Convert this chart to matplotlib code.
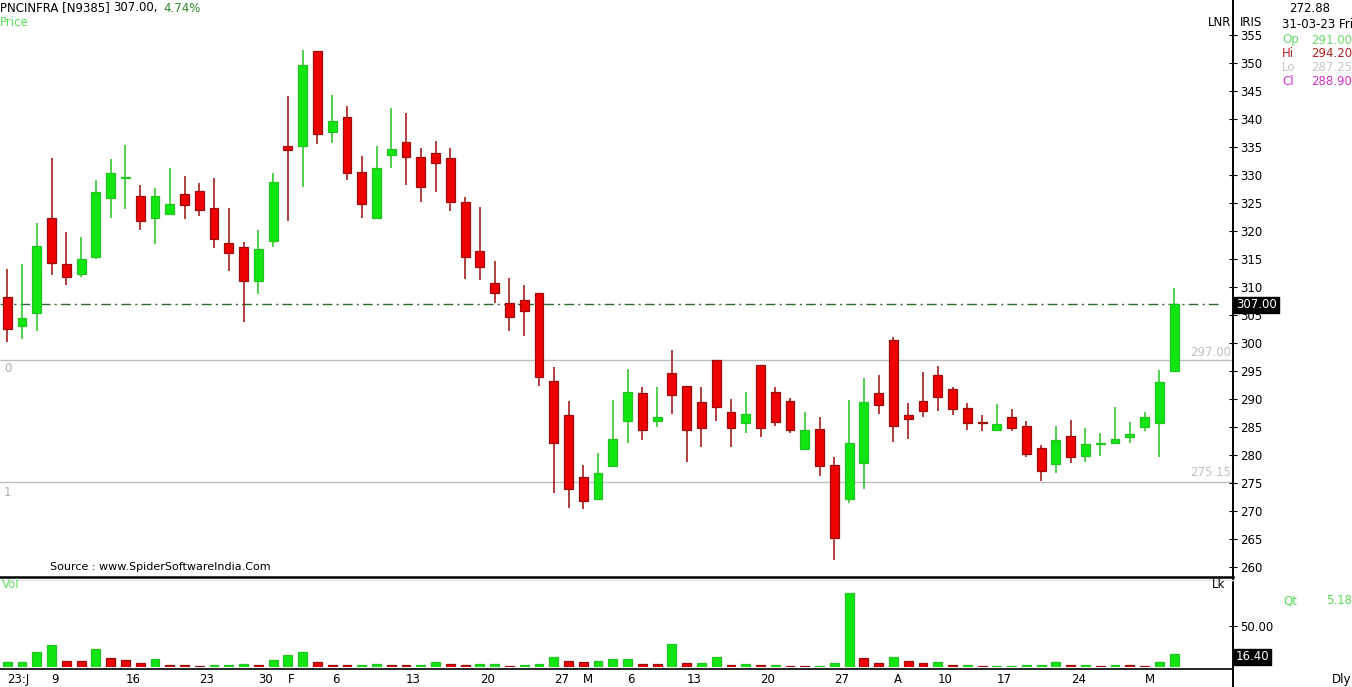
import numpy as np
import matplotlib
matplotlib.use('Agg')
import matplotlib.pyplot as plt
from matplotlib.lines import Line2D

# PNCINFRA daily candles, 04-Jan-2023 .. 04-May-2023
opens = [308.3, 303.1, 305.4, 322.4, 314.1, 312.3, 315.4, 325.9, 329.4, 326.2,
         322.4, 323.1, 326.6, 327.1, 324.1, 317.8, 317.1, 311.1, 318.3, 335.1,
         335.1, 352.1, 337.7, 340.3, 330.5, 322.4, 333.5, 335.9, 333.2, 334.0,
         333.0, 325.1, 316.5, 310.7, 307.1, 307.7, 309.0, 293.3, 287.1, 276.1,
         272.1, 278.1, 286.1, 291.0, 286.1, 294.6, 292.4, 289.4, 297.0, 287.6,
         285.8, 296.0, 291.2, 289.7, 281.1, 284.6, 278.2, 272.1, 278.5, 291.0,
         300.5, 287.1, 289.7, 294.3, 291.8, 288.45, 285.9, 284.5, 286.7, 285.2,
         281.3, 278.4, 283.45, 279.9, 281.9, 282.1, 283.3, 285.05, 285.8, 295.05]
highs = [313.2, 314.1, 321.4, 333.1, 319.8, 319.0, 329.1, 332.8, 335.4, 328.3,
         327.6, 331.2, 329.8, 328.6, 329.4, 324.1, 318.1, 320.2, 330.3, 344.1,
         352.3, 352.1, 344.3, 342.3, 333.4, 335.1, 341.9, 341.1, 334.9, 336.0,
         334.8, 326.1, 324.2, 314.6, 311.6, 310.4, 309.0, 295.7, 289.7, 278.3,
         280.3, 289.8, 295.4, 292.1, 292.2, 298.75, 292.4, 292.1, 297.0, 290.0,
         291.2, 296.0, 292.2, 290.1, 287.6, 286.7, 279.7, 289.8, 293.8, 294.2,
         301.1, 289.3, 294.9, 295.9, 292.2, 289.35, 287.15, 289.1, 288.3, 286.1,
         281.8, 285.2, 286.25, 284.9, 284.0, 288.6, 285.95, 287.6, 295.2, 309.9]
lows = [300.2, 300.7, 302.2, 312.1, 310.3, 311.7, 315.0, 322.4, 323.9, 320.2,
        317.7, 322.9, 322.1, 322.6, 316.9, 312.9, 303.7, 308.8, 317.2, 321.7,
        327.8, 335.5, 335.8, 329.1, 322.4, 322.3, 331.2, 328.2, 325.2, 326.9,
        323.5, 311.5, 311.25, 307.1, 302.2, 301.3, 292.3, 273.3, 270.6, 270.3,
        271.9, 277.9, 282.1, 282.7, 285.0, 287.4, 278.8, 281.4, 286.1, 281.4,
        284.0, 283.3, 285.2, 284.0, 280.9, 276.3, 261.25, 271.4, 273.9, 287.25,
        282.3, 282.8, 286.85, 287.85, 287.1, 284.5, 284.2, 284.4, 284.2, 279.7,
        275.4, 276.7, 278.6, 278.8, 279.9, 282.0, 282.1, 284.2, 279.7, 295.0]
closes = [302.5, 304.4, 317.3, 314.3, 311.8, 315.0, 327.0, 330.4, 329.6, 321.7,
          326.2, 324.8, 324.6, 323.7, 318.6, 316.1, 311.1, 316.8, 328.8, 334.4,
          349.6, 337.3, 339.7, 330.3, 324.8, 331.2, 334.6, 333.3, 327.9, 332.1,
          325.1, 315.3, 313.5, 308.9, 304.6, 305.8, 294.0, 282.1, 273.9, 271.7,
          276.8, 282.9, 291.25, 284.5, 286.7, 290.8, 284.5, 284.9, 288.6, 284.75,
          287.3, 284.9, 285.95, 284.5, 284.5, 278.1, 265.2, 282.2, 289.5, 288.9,
          285.1, 286.4, 287.9, 290.4, 288.15, 285.8, 285.7, 285.5, 284.9, 280.2,
          277.15, 282.7, 279.7, 282.0, 282.1, 282.85, 283.7, 286.7, 293.1, 307.0]

# volume in lakh, and its colour flag as drawn (1 = green, 0 = red)
volumes = [6.0, 6.0, 18.4, 26.8, 7.2, 7.2, 22.0, 10.8, 8.8, 5.2,
           10.0, 2.4, 2.4, 1.2, 2.4, 2.4, 3.6, 2.4, 8.4, 14.8,
           18.4, 6.0, 2.4, 2.4, 2.4, 3.6, 2.4, 2.4, 2.4, 6.0,
           3.6, 2.4, 3.6, 3.6, 1.2, 2.4, 3.6, 12.4, 7.2, 6.0,
           7.2, 9.6, 9.6, 3.6, 3.6, 28.0, 4.8, 4.8, 12.4, 2.4,
           3.6, 2.4, 2.4, 1.2, 1.2, 0.8, 4.8, 90.0, 10.8, 5.18,
           12.4, 7.2, 4.8, 6.0, 2.4, 2.4, 1.2, 0.8, 0.8, 2.4,
           2.4, 6.0, 2.4, 2.4, 1.2, 2.4, 2.4, 1.2, 6.0, 16.4]
vol_up = [1, 1, 1, 1, 0, 0, 1, 0, 0, 0,
          1, 0, 0, 0, 1, 1, 1, 0, 1, 1,
          1, 0, 0, 0, 1, 1, 0, 0, 1, 1,
          0, 0, 1, 1, 0, 1, 1, 1, 0, 0,
          1, 1, 1, 0, 0, 1, 0, 1, 1, 0,
          1, 0, 1, 0, 0, 1, 1, 1, 0, 0,
          1, 0, 0, 1, 0, 1, 0, 1, 1, 1,
          1, 1, 0, 1, 0, 1, 0, 0, 1, 1]

# date labels on the x axis (candle index, text)
date_pos = [0, 3, 8, 13, 17, 19, 22, 27, 32, 37, 39, 42, 46, 51, 56, 60, 63, 67, 72, 77]
date_txt = ['23:J', '9', '16', '23', '30', 'F', '6', '13', '20', '27', 'M',
            '6', '13', '20', '27', 'A', '10', '17', '24', 'M']

last_close = 307.00
pct_change = 4.74
level_hi = 297.00
level_lo = 275.15

GREEN = '#12e612'
GREEN_EDGE = '#22c422'
RED = '#ee0000'
RED_EDGE = '#9c0c0c'

W, H = 1352, 687
fig = plt.figure(figsize=(W / 100, H / 100), dpi=100)
fig.patch.set_facecolor('white')


def fx(x):
    return x / W


def fy(y):
    return 1 - y / H


#Price panel
ax = fig.add_axes([0, fy(576), fx(1233), 576 / H])
x = np.arange(len(opens))
o = np.array(opens)
c = np.array(closes)
up = c >= o
body_col = np.where(up, GREEN, RED)
edge_col = np.where(up, GREEN_EDGE, RED_EDGE)

ax.vlines(x, lows, highs, colors=edge_col, linewidth=1.1, zorder=2)
body_h = np.maximum(np.abs(c - o), 0.2)
ax.bar(x, body_h, bottom=np.minimum(o, c), width=0.6, color=body_col,
       edgecolor=edge_col, linewidth=0.9, zorder=3)

ax.axhline(last_close, xmax=1222 / 1233, color='#2f6a2f', linewidth=1.0,
           linestyle=(0, (7, 3, 1.5, 3)), zorder=1)
ax.axhline(level_hi, xmax=0.998, color='#bdbdbd', linewidth=1.0, zorder=1)
ax.axhline(level_lo, xmax=0.998, color='#bdbdbd', linewidth=1.0, zorder=1)

ax.set_xlim(-0.494, 82.99)
ax.set_ylim(355 - 541 / 5.6, 355 + 35 / 5.6)
ax.yaxis.tick_right()
ax.set_yticks(np.arange(260, 356, 5))
ax.tick_params(axis='y', direction='inout', length=6, width=0.8, pad=2,
               labelsize=8.5, colors='black')
ax.set_xticks([])
for s in ax.spines.values():
    s.set_visible(False)

#Volume panel (bars sit just above the bottom rule)
vax = fig.add_axes([0, fy(667), fx(1233), 89 / H])
vcol = [GREEN if u else RED for u in vol_up]
vedge = [GREEN_EDGE if u else RED_EDGE for u in vol_up]
vax.bar(x, volumes, width=0.6, color=vcol, edgecolor=vedge, linewidth=0.9)
vax.set_xlim(-0.494, 82.99)
vax.set_ylim(0, 89 / 0.82)
vax.yaxis.tick_right()
vax.set_yticks([50])
vax.set_yticklabels(['50.00'])
vax.tick_params(axis='y', direction='inout', length=6, width=0.8, pad=2,
                labelsize=8.5)
vax.set_xticks(date_pos)
vax.set_xticklabels(date_txt, ha='left')
vax.tick_params(axis='x', length=0, pad=4, labelsize=8.5)
for s in vax.spines.values():
    s.set_visible(False)

#Frame lines
fig.add_artist(Line2D([fx(1233), fx(1233)], [0, 1], color='black', linewidth=1.4))
fig.add_artist(Line2D([0, fx(1233)], [fy(576.5), fy(576.5)], color='black', linewidth=1.8))
fig.add_artist(Line2D([0, fx(1233)], [fy(579.5), fy(579.5)], color='#e4e4e4', linewidth=1.0))
fig.add_artist(Line2D([0, fx(1233)], [fy(669), fy(669)], color='black', linewidth=1.2))

#Texts
fs = 8.5
fig.text(fx(0), fy(8), 'PNCINFRA [N9385]', fontsize=fs, va='center', ha='left')
fig.text(fx(113), fy(8), '%.2f,' % last_close, fontsize=fs, va='center', ha='left')
fig.text(fx(163), fy(8), '%.2f%%' % pct_change, fontsize=fs, va='center', ha='left',
         color='#2e8b2e')
fig.text(fx(0), fy(23), 'Price', fontsize=fs, va='center', ha='left', color='#55dd55')

fig.text(fx(1208), fy(23), 'LNR', fontsize=fs, va='center', ha='left')
fig.text(fx(1240), fy(23), 'IRIS', fontsize=fs, va='center', ha='left')
fig.text(fx(1310), fy(9), '272.88', fontsize=fs, va='center', ha='center')
fig.text(fx(1282), fy(25), '31-03-23 Fri', fontsize=fs, va='center', ha='left')
info = [('Op', '291.00', '#66dd66'), ('Hi', '294.20', '#b22222'),
        ('Lo', '287.25', '#c8c8c8'), ('Cl', '288.90', '#cc33cc')]
for k, (lab, val, col) in enumerate(info):
    yy = 40 + 13.7 * k
    fig.text(fx(1282), fy(yy), lab, fontsize=fs, va='center', ha='left', color=col)
    fig.text(fx(1352), fy(yy), val, fontsize=fs, va='center', ha='right', color=col)

fig.text(fx(1236), fy(305), '%.2f' % last_close, fontsize=fs, va='center', ha='left',
         color='white', bbox=dict(boxstyle='square,pad=0.15', fc='black', ec='black'))
fig.text(fx(1231), fy(352), '%.2f' % level_hi, fontsize=fs, va='center', ha='right',
         color='#c0c0c0')
fig.text(fx(1231), fy(473), '%.2f' % level_lo, fontsize=fs, va='center', ha='right',
         color='#c0c0c0')
fig.text(fx(4), fy(369), '0', fontsize=fs, va='center', ha='left', color='#b0b0b0')
fig.text(fx(4), fy(492), '1', fontsize=fs, va='center', ha='left', color='#b0b0b0')
fig.text(fx(50), fy(567), 'Source : www.SpiderSoftwareIndia.Com', fontsize=8,
         va='center', ha='left')

fig.text(fx(2), fy(585), 'Vol', fontsize=fs, va='center', ha='left', color='#66dd66')
fig.text(fx(1212), fy(585), 'Lk', fontsize=fs, va='center', ha='left')
fig.text(fx(1283), fy(601), 'Qt', fontsize=fs, va='center', ha='left', color='#55dd55')
fig.text(fx(1352), fy(601), '5.18', fontsize=fs, va='center', ha='right', color='#55dd55')
fig.text(fx(1236), fy(657), '%.2f' % volumes[-1], fontsize=fs, va='center', ha='left',
         color='white', bbox=dict(boxstyle='square,pad=0.15', fc='black', ec='black'))
fig.text(fx(1332), fy(679), 'Dly', fontsize=fs, va='center', ha='left')

fig.savefig('out.png', dpi=100)
plt.close('all')
